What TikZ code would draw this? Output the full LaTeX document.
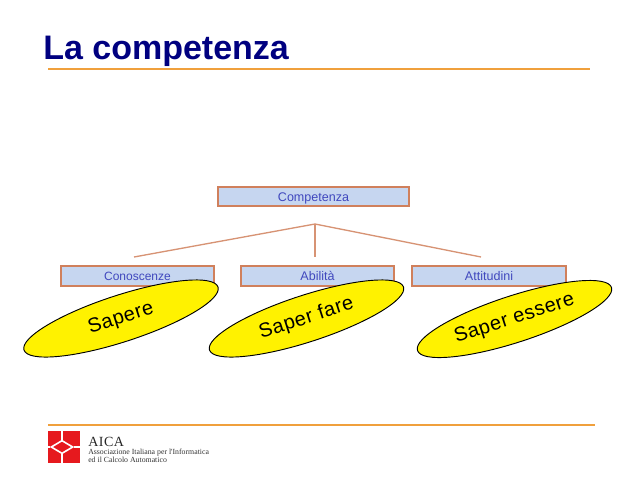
\documentclass[tikz,border=0pt]{standalone}
\usepackage{fontspec}
\setmainfont{Liberation Sans}
\newfontfamily\spacedfont[LetterSpace=3]{Liberation Sans}
\newfontfamily\logofont{Liberation Serif}
\usetikzlibrary{shapes.geometric,shadows}
\definecolor{titleblue}{RGB}{0,0,128}
\definecolor{ruleorange}{RGB}{240,160,60}
\definecolor{boxblue}{RGB}{198,214,240}
\definecolor{boxedge}{RGB}{208,128,92}
\definecolor{boxtext}{RGB}{64,72,190}
\definecolor{logored}{RGB}{230,25,30}
\tikzset{
	skill/.style={draw=boxedge,line width=1.7pt,fill=boxblue,text=boxtext,inner sep=0pt,
		minimum height=14.5pt,text height=7pt,text depth=0pt,font=\fontsize{9.4}{11}\selectfont,
		drop shadow={shadow xshift=.6pt,shadow yshift=-.6pt,opacity=.3,fill=black}},
	oval/.style={ellipse,draw=black,line width=.7pt,fill=yellow,inner sep=0pt,
		minimum width=153pt,minimum height=35pt,rotate=18,font=\spacedfont\fontsize{15}{18}\selectfont},
	branch/.style={draw=boxedge!85,line width=1pt},
	rulebar/.style={draw=ruleorange,line width=1.8pt}
}
\begin{document}
\begin{tikzpicture}[x=.75pt,y=-.75pt]
	\useasboundingbox (0,0) rectangle (638,479);
	\node[anchor=base west,inner sep=0pt,text=titleblue,font=\bfseries\fontsize{25.5}{30}\selectfont] (title) at (43,59) {La competenza};
	\coordinate (titleL) at (48,69);
	\coordinate (titleR) at (590,69);
	\draw[rulebar] (titleL) -- (titleR);

	\node[skill,minimum width=143pt] (comp) at (313.5,196.5) {Competenza};
	\node[skill,minimum width=115pt,font=\fontsize{9}{11}\selectfont] (con) at (137.5,276) {Conoscenze};
	\node[skill,minimum width=115pt] (abi) at (317.5,276) {Abilità};
	\node[skill,minimum width=115pt] (att) at (489,276) {Attitudini};

	\coordinate (fork) at (315,224);
	\coordinate (forkA) at (134,257);
	\coordinate (forkB) at (315,257);
	\coordinate (forkC) at (481,257);
	\draw[branch] (fork) -- (forkA);
	\draw[branch] (fork) -- (forkB);
	\draw[branch] (fork) -- (forkC);

	\node[oval] (sapere) at (121,318.5) {Sapere};
	\node[oval] (fare) at (306.5,318.5) {Saper fare};
	\node[oval] (essere) at (514.5,319) {Saper essere};

	\coordinate (footL) at (48,425);
	\coordinate (footR) at (595,425);
	\draw[rulebar] (footL) -- (footR);

	% logo
	\node[fill=logored,minimum size=24.5pt,inner sep=0pt] (logo) at (64,447) {};
	\node[diamond,draw=white,line width=1.2pt,minimum width=16.5pt,minimum height=10pt,inner sep=0pt] (rombo) at (62,447) {};
	\coordinate (logoW) at (48,447);
	\coordinate (logoE) at (81,447);
	\coordinate (logoN) at (62,431);
	\coordinate (logoS) at (62,463);
	\draw[white,line width=1pt] (logoW) -- (rombo.west);
	\draw[white,line width=1pt] (rombo.east) -- (logoE);
	\draw[white,line width=.8pt] (logoN) -- (rombo.north);
	\draw[white,line width=.8pt] (rombo.south) -- (logoS);
	\node[anchor=base west,inner sep=0pt,font=\logofont\fontsize{10.5}{12}\selectfont,text=black!85] (aica) at (88,446) {A\kern.4pt I\kern.4pt C\kern.4pt A};
	\node[anchor=base west,inner sep=0pt,font=\logofont\fontsize{5.85}{7}\selectfont,text=black!80] (assoc1) at (88,454) {Associazione Italiana per l'Informatica};
	\node[anchor=base west,inner sep=0pt,font=\logofont\fontsize{5.85}{7}\selectfont,text=black!80] (assoc2) at (88,462.5) {ed il Calcolo Automatico};
\end{tikzpicture}
\end{document}
